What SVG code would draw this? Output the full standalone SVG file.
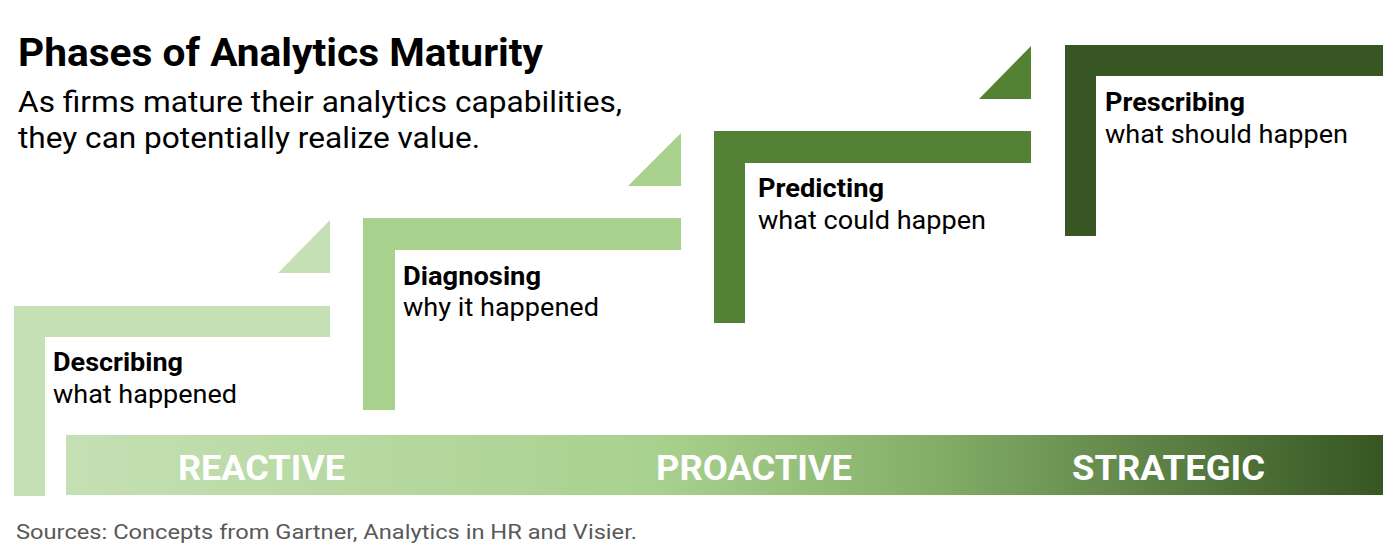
<svg xmlns="http://www.w3.org/2000/svg" width="1395" height="554" viewBox="0 0 1395 554">
<style>
text{font-family:Roboto,"Liberation Sans",sans-serif;fill:#000}
.h{font-size:26px;font-weight:bold}
.s{font-size:26px}
.band{font-size:35px;font-weight:bold;fill:#fff}
</style>
<defs>
<linearGradient id="g" x1="0" x2="1" y1="0" y2="0">
<stop offset="0" stop-color="#c5e0b4"/>
<stop offset="0.45" stop-color="#a9d18e"/>
<stop offset="0.65" stop-color="#86b06a"/>
<stop offset="1" stop-color="#375623"/>
</linearGradient>
</defs>
<rect width="1395" height="554" fill="#fff"/>
<text x="18" y="66" style="font-size:38px;font-weight:bold" textLength="525" lengthAdjust="spacingAndGlyphs">Phases of Analytics Maturity</text>
<text x="18" y="112" style="font-size:29px" textLength="604" lengthAdjust="spacingAndGlyphs">As firms mature their analytics capabilities,</text>
<text x="18" y="148" style="font-size:29px" textLength="462" lengthAdjust="spacingAndGlyphs">they can potentially realize value.</text>
<g id="step1" fill="#c5e0b4">
<path d="M14 306H330V337H45V496H14Z"/>
<path d="M278 273L330 220V273Z"/>
<text class="h" x="53" y="371" textLength="130" lengthAdjust="spacingAndGlyphs">Describing</text>
<text class="s" x="53" y="403" textLength="184" lengthAdjust="spacingAndGlyphs">what happened</text>
</g>
<g id="step2" fill="#a9d18e">
<path d="M363 218H681V250H395V410H363Z"/>
<path d="M628 186L681 133V186Z"/>
<text class="h" x="403" y="285" textLength="138" lengthAdjust="spacingAndGlyphs">Diagnosing</text>
<text class="s" x="403" y="316" textLength="196" lengthAdjust="spacingAndGlyphs">why it happened</text>
</g>
<g id="step3" fill="#548235">
<path d="M714 131H1031V163H745V323H714Z"/>
<path d="M979 99L1031 46V99Z"/>
<text class="h" x="758" y="197" textLength="126" lengthAdjust="spacingAndGlyphs">Predicting</text>
<text class="s" x="758" y="229" textLength="228" lengthAdjust="spacingAndGlyphs">what could happen</text>
</g>
<g id="step4" fill="#375623">
<path d="M1065 45H1383V76H1096V236H1065Z"/>
<text class="h" x="1105" y="111" textLength="140" lengthAdjust="spacingAndGlyphs">Prescribing</text>
<text class="s" x="1105" y="143" textLength="243" lengthAdjust="spacingAndGlyphs">what should happen</text>
</g>
<g id="band">
<rect x="66" y="435" width="1317" height="60" fill="url(#g)"/>
<text class="band" x="178" y="480" textLength="167" lengthAdjust="spacingAndGlyphs">REACTIVE</text>
<text class="band" x="656" y="480" textLength="196" lengthAdjust="spacingAndGlyphs">PROACTIVE</text>
<text class="band" x="1072" y="480" textLength="193" lengthAdjust="spacingAndGlyphs">STRATEGIC</text>
</g>
<g id="connectors"></g>
<text x="16" y="539" style="font-size:21px;fill:#595959" textLength="621" lengthAdjust="spacingAndGlyphs">Sources: Concepts from Gartner, Analytics in HR and Visier.</text>
</svg>
